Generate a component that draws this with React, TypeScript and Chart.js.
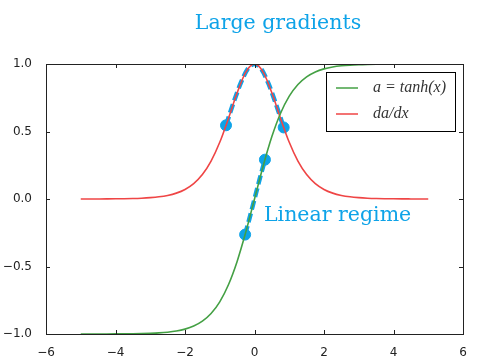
import React, { useEffect, useRef } from "react";
import { Chart, registerables } from "chart.js";

Chart.register(...registerables);

// Sample positions and read-off curve values
const xs = [-5, -4.75, -4.5, -4.25, -4, -3.75, -3.5, -3.25, -3, -2.75, -2.5, -2.25, -2, -1.75, -1.5, -1.25, -1, -0.75, -0.5, -0.25, 0, 0.25, 0.5, 0.75, 1, 1.25, 1.5, 1.75, 2, 2.25, 2.5, 2.75, 3, 3.25, 3.5, 3.75, 4, 4.25, 4.5, 4.75, 5];
const tanhVals = [-0.9999, -0.9999, -0.9998, -0.9996, -0.9993, -0.9989, -0.9982, -0.997, -0.9951, -0.9919, -0.9866, -0.978, -0.964, -0.9414, -0.9051, -0.8483, -0.7616, -0.6351, -0.4621, -0.2449, 0, 0.2449, 0.4621, 0.6351, 0.7616, 0.8483, 0.9051, 0.9414, 0.964, 0.978, 0.9866, 0.9919, 0.9951, 0.997, 0.9982, 0.9989, 0.9993, 0.9996, 0.9998, 0.9999, 0.9999];
const derivVals = [0.0002, 0.0003, 0.0005, 0.0008, 0.0013, 0.0022, 0.0036, 0.006, 0.0099, 0.0161, 0.0266, 0.0435, 0.0707, 0.1138, 0.1807, 0.2804, 0.42, 0.5966, 0.7864, 0.94, 1, 0.94, 0.7864, 0.5966, 0.42, 0.2804, 0.1807, 0.1138, 0.0707, 0.0435, 0.0266, 0.0161, 0.0099, 0.006, 0.0036, 0.0022, 0.0013, 0.0008, 0.0005, 0.0003, 0.0002];

// Highlighted (dashed) segments
const gradSegX = [-0.82, -0.6, -0.4, -0.2, 0, 0.2, 0.4, 0.6, 0.84];
const gradSegY = [0.546, 0.7163, 0.8556, 0.961, 1, 0.961, 0.8556, 0.7163, 0.53];
const linSegX = [-0.27, -0.15, 0, 0.15, 0.33];
const linSegY = [-0.2636, -0.1489, 0, 0.1489, 0.3185];

// Marker points
const gradPtsX = [-0.82, 0.84];
const gradPtsY = [0.546, 0.53];
const linPtsX = [-0.27, 0.3];
const linPtsY = [-0.2636, 0.2913];

const xTicks = [-6, -4, -2, 0, 2, 4, 6];
const yTicks = [-1, -0.5, 0, 0.5, 1];

const legendLabels = ["a = tanh(x)", "da/dx"];
const titleText = "Large gradients";
const noteText = "Linear regime";

const GREEN = "#44a044";
const RED = "#ef4545";
const BLUE = "#0ea3e8";

const zip = (a: number[], b: number[]) => a.map((x, i) => ({ x, y: b[i] }));
const fmt = (v: number, d: number) => {
  const s = Math.abs(v).toFixed(d);
  return v < 0 ? "\u2212" + s : s;
};

const framePlugin = {
  id: "frame",
  afterDraw(chart: any) {
    const { ctx, chartArea: a, scales } = chart;
    const xs_ = scales.x;
    const ys_ = scales.y;
    ctx.save();
    ctx.strokeStyle = "#222";
    ctx.lineWidth = 1;
    ctx.strokeRect(Math.round(a.left) + 0.5, Math.round(a.top) + 0.5, Math.round(a.right - a.left), Math.round(a.bottom - a.top));
    ctx.beginPath();
    xTicks.forEach((t) => {
      const px = Math.round(xs_.getPixelForValue(t)) + 0.5;
      ctx.moveTo(px, a.bottom);
      ctx.lineTo(px, a.bottom - 4);
      ctx.moveTo(px, a.top);
      ctx.lineTo(px, a.top + 4);
    });
    yTicks.forEach((t) => {
      const py = Math.round(ys_.getPixelForValue(t)) + 0.5;
      ctx.moveTo(a.left, py);
      ctx.lineTo(a.left + 4, py);
      ctx.moveTo(a.right, py);
      ctx.lineTo(a.right - 4, py);
    });
    ctx.stroke();

    // legend
    const lx = 326, ly = 72, lw = 129, lh = 59;
    ctx.fillStyle = "#fff";
    ctx.fillRect(lx, ly, lw, lh);
    ctx.strokeStyle = "#000";
    ctx.strokeRect(lx + 0.5, ly + 0.5, lw, lh);
    const rows = [
      { c: GREEN, t: legendLabels[0], y: ly + 16 },
      { c: RED, t: legendLabels[1], y: ly + 42 },
    ];
    ctx.font = "italic 16px 'Liberation Serif', serif";
    ctx.textBaseline = "middle";
    ctx.textAlign = "left";
    rows.forEach((r) => {
      ctx.strokeStyle = r.c;
      ctx.lineWidth = 1.5;
      ctx.beginPath();
      ctx.moveTo(336, r.y);
      ctx.lineTo(358, r.y);
      ctx.stroke();
      ctx.fillStyle = "#333";
      ctx.fillText(r.t, 373, r.y);
    });

    // annotations
    ctx.fillStyle = BLUE;
    ctx.font = "20.5px 'DejaVu Serif', serif";
    ctx.textBaseline = "alphabetic";
    ctx.textAlign = "center";
    ctx.fillText(titleText, 278, 29);
    ctx.textAlign = "left";
    ctx.fillText(noteText, 264, 221);
    ctx.restore();
  },
};

export default function App() {
  const ref = useRef<HTMLCanvasElement | null>(null);
  useEffect(() => {
    if (!ref.current) return;
    const chart = new Chart(ref.current, {
      type: "line",
      data: {
        datasets: [
          { data: zip(xs, tanhVals), borderColor: GREEN, borderWidth: 1.6, pointRadius: 0, cubicInterpolationMode: "monotone" },
          { data: zip(xs, derivVals), borderColor: RED, borderWidth: 1.6, pointRadius: 0, cubicInterpolationMode: "monotone" },
          { data: zip(gradSegX, gradSegY), borderColor: BLUE, borderWidth: 4.5, borderDash: [9, 4], pointRadius: 0, cubicInterpolationMode: "monotone" },
          { data: zip(linSegX, linSegY), borderColor: BLUE, borderWidth: 4.5, borderDash: [9, 4], pointRadius: 0, cubicInterpolationMode: "monotone" },
          { data: zip(gradPtsX, gradPtsY), showLine: false, pointRadius: 5.5, pointBackgroundColor: BLUE, pointBorderColor: BLUE, borderColor: BLUE },
          { data: zip(linPtsX, linPtsY), showLine: false, pointRadius: 5.5, pointBackgroundColor: BLUE, pointBorderColor: BLUE, borderColor: BLUE },
        ] as any,
      },
      options: {
        animation: false,
        responsive: false,
        maintainAspectRatio: false,
        layout: { padding: { top: 64, right: 35, left: 0, bottom: 0 } },
        plugins: { legend: { display: false }, tooltip: { enabled: false } },
        scales: {
          x: {
            type: "linear",
            min: -6,
            max: 6,
            grid: { display: false },
            border: { display: false },
            afterBuildTicks: (s: any) => { s.ticks = xTicks.map((v) => ({ value: v })); },
            afterFit: (s: any) => { s.height = 23; },
            ticks: { padding: 4, color: "#222", font: { family: "'DejaVu Sans', sans-serif", size: 12 }, callback: (v: any) => fmt(Number(v), 0), maxRotation: 0 },
          },
          y: {
            type: "linear",
            min: -1,
            max: 1,
            grid: { display: false },
            border: { display: false },
            afterBuildTicks: (s: any) => { s.ticks = yTicks.map((v) => ({ value: v })); },
            afterFit: (s: any) => { s.width = 46; },
            ticks: { padding: 6, color: "#222", font: { family: "'DejaVu Sans', sans-serif", size: 12 }, callback: (v: any) => fmt(Number(v), 1) },
          },
        },
      } as any,
      plugins: [framePlugin],
    });
    return () => chart.destroy();
  }, []);
  return (
    <div style={{ position: "fixed", left: 0, top: 0, width: 498, height: 357, background: "#fff" }}>
      <canvas ref={ref} width={498} height={357} />
    </div>
  );
}
